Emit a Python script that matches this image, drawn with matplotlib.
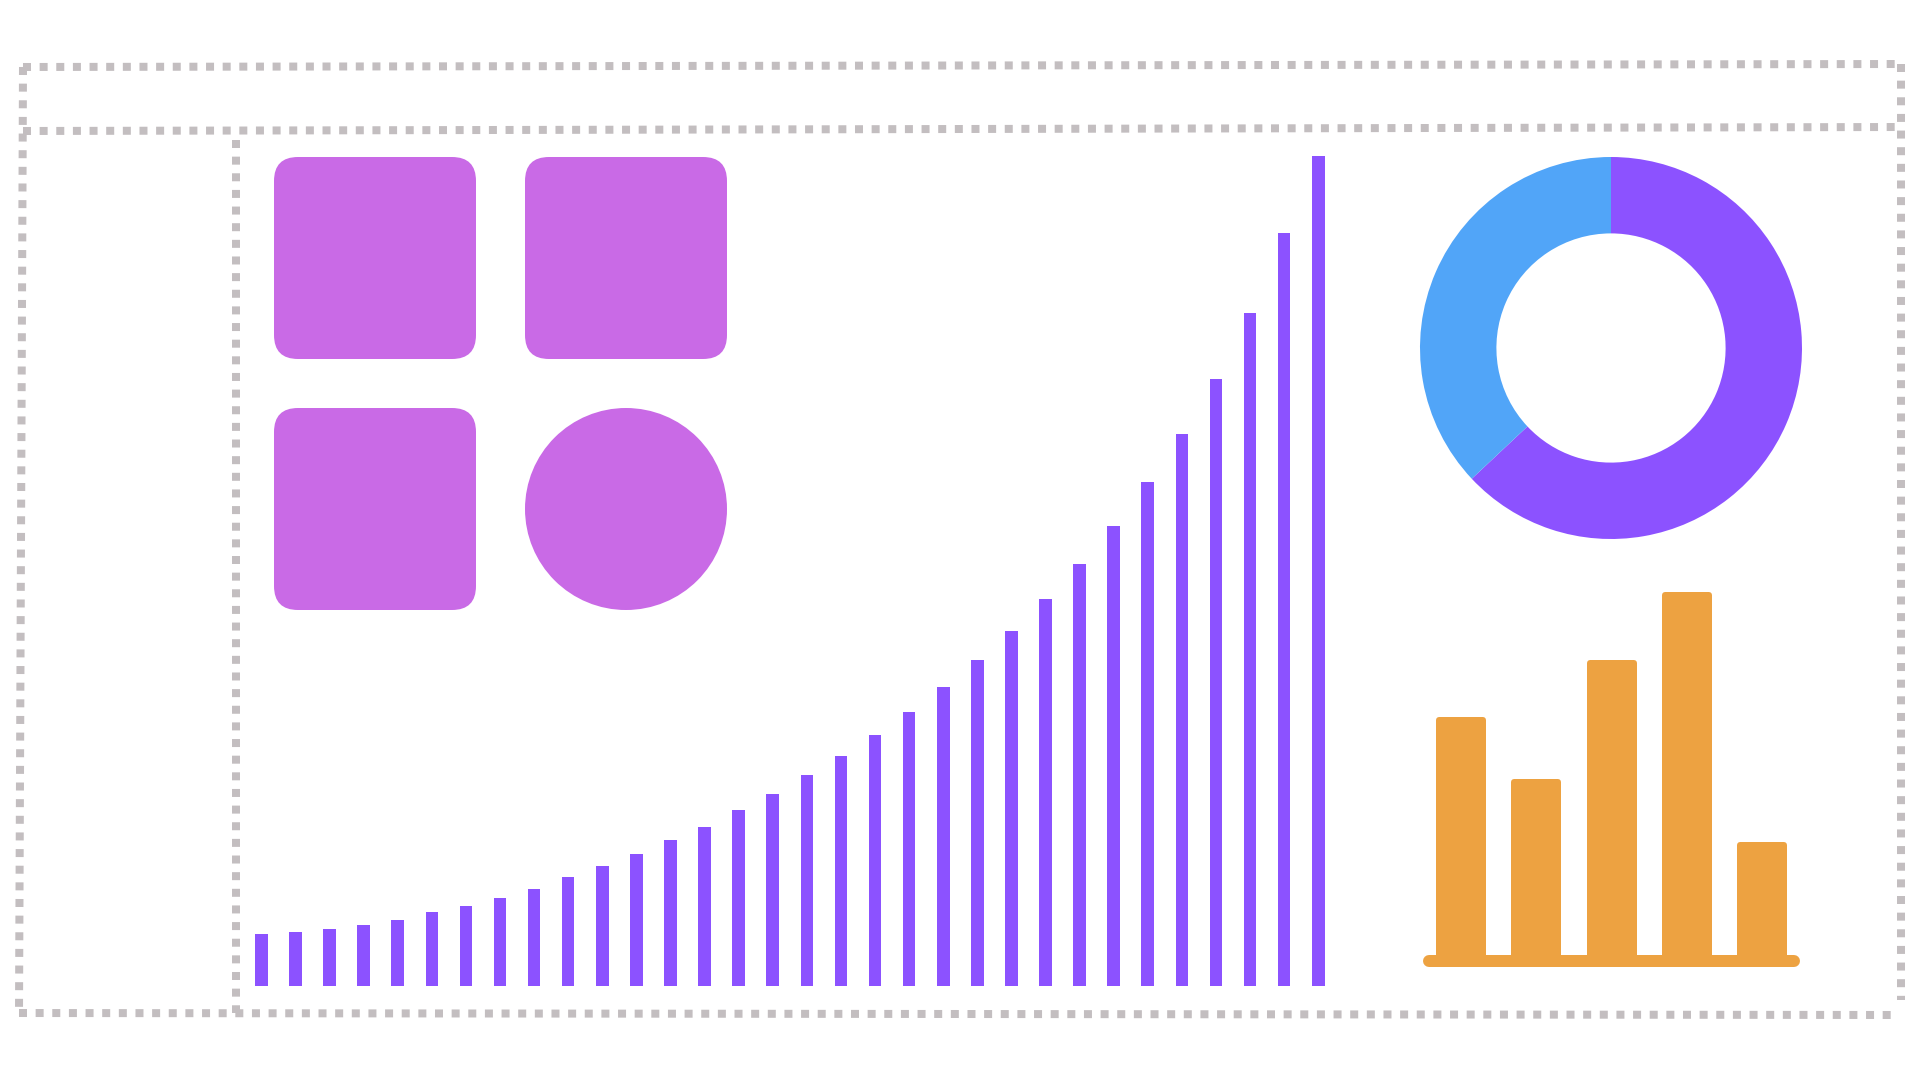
import numpy as np
import matplotlib
matplotlib.use("Agg")
import matplotlib.pyplot as plt
from matplotlib.patches import FancyBboxPatch, Circle

# --- data ---
growth_values = [52, 54, 57, 61, 66, 74, 80, 88, 97, 109, 120, 132, 146, 159, 176, 192,
                 211, 230, 251, 274, 299, 326, 355, 387, 422, 460, 504, 552, 607, 673, 753, 830]
donut_shares = [63, 37]
donut_colors = ["#8c52ff", "#51a5f8"]
column_values = [238, 176, 295, 363, 113]
tile_shapes = ["square", "square", "square", "circle"]

PURPLE = "#8c52ff"
PINK = "#c96ae6"
ORANGE = "#eda241"
BORDER = "#c3bec0"

W, H = 1920, 1080
fig = plt.figure(figsize=(W / 100, H / 100), dpi=100)
fig.patch.set_facecolor("white")


def px_axes(left, top, width, height, **kw):
    # axes placed in pixel units measured from the top-left corner
    return fig.add_axes([left / W, 1 - (top + height) / H, width / W, height / H], **kw)


# dotted wireframe borders (figure pixels)
ax_bg = px_axes(0, 0, W, H)
ax_bg.set_xlim(0, W)
ax_bg.set_ylim(H, 0)
ax_bg.axis("off")
border_lines = [
    ((23, 67), (1900, 64)),
    ((23, 131), (1900, 127)),
    ((1901, 64), (1901, 1000)),
    ((19, 1013), (1895, 1015)),
    ((23, 67), (19, 1013)),
    ((236, 140), (236, 1013)),
]
lw_pt = 8 * 0.72
for (x0, y0), (x1, y1) in border_lines:
    ax_bg.plot([x0, x1], [y0, y1], color=BORDER, lw=lw_pt,
               linestyle=(0, (1, 1.08)), dash_capstyle="butt")

# growing purple bars
ax_bars = px_axes(244.3, 136, 1091, 850)
ax_bars.axis("off")
x = np.arange(len(growth_values))
ax_bars.bar(x, growth_values, width=0.37, color=PURPLE)
ax_bars.set_xlim(-0.5, len(growth_values) - 0.5)
ax_bars.set_ylim(0, 850)

# pink tiles in a 2x2 grid
TILE, GAP = 202, 49
ax_tiles = px_axes(274, 157, 2 * TILE + GAP, 2 * TILE + GAP)
ax_tiles.axis("off")
ax_tiles.set_xlim(0, 2 * TILE + GAP)
ax_tiles.set_ylim(2 * TILE + GAP, 0)
for i, shape in enumerate(tile_shapes):
    col, row = i % 2, i // 2
    x0 = col * (TILE + GAP)
    y0 = row * (TILE + GAP)
    if shape == "circle":
        ax_tiles.add_patch(Circle((x0 + TILE / 2, y0 + TILE / 2), TILE / 2,
                                  color=PINK, lw=0))
    else:
        ax_tiles.add_patch(FancyBboxPatch((x0, y0), TILE, TILE,
                                          boxstyle="round,pad=0,rounding_size=24",
                                          color=PINK, lw=0))

# donut
ax_donut = px_axes(1420, 157, 382, 382)
ax_donut.pie(donut_shares, colors=donut_colors, startangle=90, counterclock=False,
             radius=1, wedgeprops=dict(width=0.4, linewidth=0))
ax_donut.set_xlim(-1, 1)
ax_donut.set_ylim(-1, 1)

# orange column chart
ax_cols = px_axes(1423.4, 555, 376.5, 414)
ax_cols.axis("off")
xc = np.arange(len(column_values))
ax_cols.bar(xc, column_values, bottom=-3, width=0.585, color=ORANGE,
            edgecolor=ORANGE, linewidth=6 * 0.72, joinstyle="round")
cap = 6 / 75.3
ax_cols.plot([-0.5 + cap, len(column_values) - 0.5 - cap], [-6, -6], color=ORANGE,
             lw=12 * 0.72, solid_capstyle="round")
ax_cols.set_xlim(-0.5, len(column_values) - 0.5)
ax_cols.set_ylim(-14, 400)

fig.savefig("out.png", dpi=100, facecolor="white")
